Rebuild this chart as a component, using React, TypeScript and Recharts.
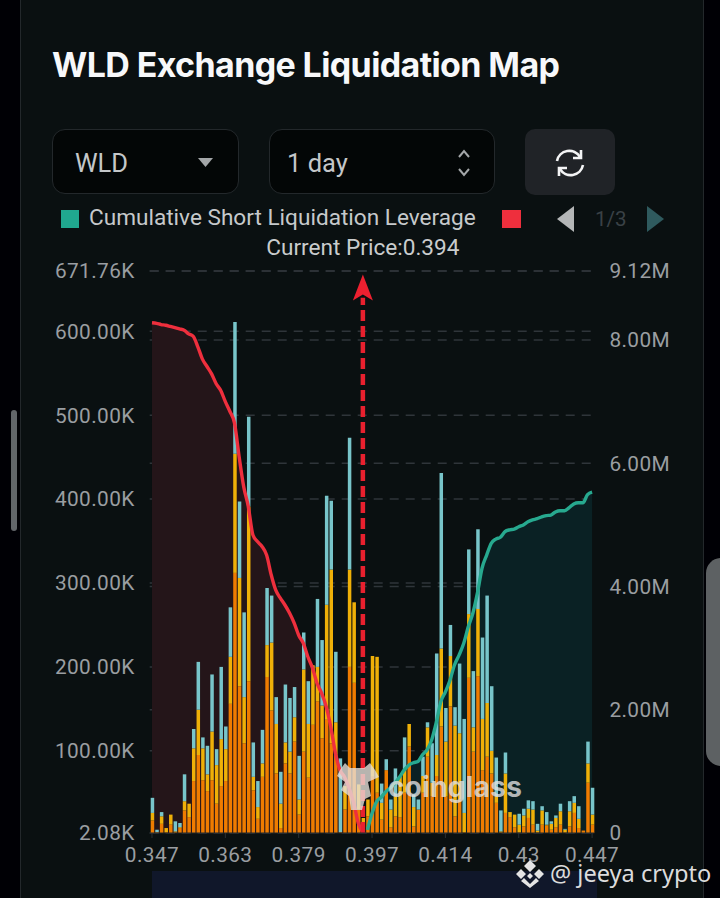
import React from 'react';
import { ComposedChart, Bar, Area, Line, XAxis, YAxis, CartesianGrid, ReferenceLine, ReferenceDot } from 'recharts';

const prices = ['0.347','0.348','0.349','0.350','0.351','0.352','0.353','0.354','0.355','0.356','0.357','0.358','0.359','0.360','0.361','0.362',
'0.363','0.364','0.365','0.366','0.367','0.368','0.369','0.370','0.371','0.372','0.373','0.374','0.375','0.376','0.377','0.378',
'0.379','0.380','0.381','0.382','0.383','0.385','0.386','0.387','0.388','0.389','0.390','0.391','0.392','0.393','0.394','0.396',
'0.397','0.398','0.399','0.400','0.401','0.402','0.403','0.404','0.405','0.406','0.407','0.408','0.409','0.410','0.411','0.412',
'0.414','0.415','0.416','0.417','0.418','0.419','0.420','0.421','0.422','0.423','0.424','0.425','0.426','0.427','0.428','0.429',
'0.43','0.431','0.432','0.433','0.434','0.435','0.436','0.437','0.438','0.439','0.440','0.441','0.443','0.444','0.445','0.446','0.447'];
const xTicks = ['0.347','0.363','0.379','0.397','0.414','0.43','0.447'];
const leftTicks = [2.08, 100, 200, 300, 400, 500, 600, 671.76];
const rightTicks = [0, 2, 4, 6, 8, 9.12];

// Top of each stacked band, in thousands
const orangeTop = [17,3,13,3,12,3,8,29,21,64,
95,65,52,65,37,58,64,156,312,177,
109,183,53,19,69,188,148,73,8,85,
73,111,24,99,68,131,159,115,137,109,
96,3,30,200,181,30,8,22,69,50,
18,77,9,22,21,50,105,10,30,50,
93,46,70,129,46,153,22,42,3,187,
99,189,77,93,73,38,3,26,21,9,
3,10,20,12,3,12,11,6,9,12,
3,10,26,8,5,62,12];
const yellowTop = [26,3,22,8,24,4,9,40,37,103,
149,103,72,123,83,114,102,212,454,306,
164,391,69,33,85,226,229,132,37,110,
99,140,42,197,132,202,200,154,274,316,
134,3,58,316,277,60,20,42,213,212,
38,77,30,46,70,77,132,33,30,70,
128,62,95,222,111,213,130,121,26,263,
128,269,138,157,100,46,4,73,27,24,
12,23,31,30,5,29,12,13,20,28,
6,28,38,19,5,85,24];
const tealTop = [44,6,27,8,24,16,14,72,37,126,
206,116,106,191,102,200,129,271,611,397,
265,498,110,64,125,294,285,164,75,179,
163,176,94,241,183,202,281,232,404,398,
218,91,58,473,277,60,20,42,213,212,
61,90,42,79,70,116,132,48,42,93,
134,109,216,431,151,250,152,204,138,340,
195,364,235,285,177,92,29,98,27,24,
25,31,41,40,13,34,27,16,23,37,
7,40,46,34,5,111,56];
// Cumulative lines, in millions
const longCum = [8.28,8.27,8.25,8.24,8.22,8.2,8.18,8.16,8.1,8.06,
7.89,7.69,7.57,7.45,7.29,7.18,7,6.84,6.65,6.11,
5.62,5.3,4.84,4.73,4.65,4.51,4.19,3.94,3.81,3.7,
3.57,3.41,3.21,3.08,2.86,2.68,2.43,2.27,2.05,1.72,
1.3,1.02,0.91,0.73,0.49,0.16,0.02];
const shortCum = [0.05,0.32,0.51,0.58,0.67,0.73,0.81,0.91,1.02,1.1,1.14,1.16,1.27,1.35,1.51,1.79,2.13,2.29,2.48,2.73,2.89,3.08,3.35,3.57,3.9,4.3,4.51,4.7,4.77,4.8,4.89,4.92,4.93,4.97,5,5.05,5.08,5.1,5.13,5.15,5.16,5.21,5.23,5.23,5.28,5.34,5.36,5.36,5.49,5.53];
const shortStart = 47;

const rows = prices.map((price, i) => ({
  price,
  orange: orangeTop[i],
  yellow: yellowTop[i] - orangeTop[i],
  teal: tealTop[i] - yellowTop[i],
  long: i < longCum.length ? longCum[i] : null,
  short: i >= shortStart ? shortCum[i - shortStart] : null,
}));

const sans = 'Roboto, sans-serif';
const RED = '#ee2f3d';
const TEAL = '#27a98f';
const tickStyle = { fill: '#9a9ea1', fontSize: 20.8, fontFamily: sans, letterSpacing: 0.4 };

const box = (left: number, width: number): React.CSSProperties => ({
  position: 'absolute', left, top: 129, width, height: 65, boxSizing: 'border-box',
  background: '#030606', border: '1.5px solid #23282b', borderRadius: 13,
});
const abs = (left: number, top: number, extra: React.CSSProperties = {}): React.CSSProperties => ({
  position: 'absolute', left, top, fontFamily: sans, whiteSpace: 'nowrap', ...extra,
});

function CurrentPrice(props: any) {
  const { cx, cy } = props;
  return (
    <g>
      <text x={cx} y={cy - 33} textAnchor="middle" fill="#c9cccd" fontSize={22.6} fontFamily={sans}>Current Price:0.394</text>
      <path d={`M${cx} ${cy - 14} L${cx + 10} ${cy + 12} L${cx} ${cy + 6} L${cx - 10} ${cy + 12} Z`} fill="#ee2030" />
    </g>
  );
}

export default function App() {
  return (
    <div style={{ position: 'absolute', left: 0, top: 0, width: 720, height: 898, background: '#000005', overflow: 'hidden' }}>
      <div style={{ position: 'absolute', left: 20, top: 0, width: 684, height: 898, background: '#0a1011', borderLeft: '1px solid #23282b', borderRight: '1px solid #23282b', boxSizing: 'border-box' }} />
      <div style={{ position: 'absolute', left: 11, top: 410, width: 6, height: 121, borderRadius: 3, background: '#62666a' }} />
      <div style={{ position: 'absolute', left: 706, top: 558, width: 30, height: 208, borderRadius: 16, background: '#5d6163' }} />
      <div style={{ position: 'absolute', left: 152, top: 871, width: 445, height: 27, background: '#10172a' }} />

      <div style={abs(52, 43, { fontFamily: 'Inter, sans-serif', fontWeight: 700, fontSize: 34, lineHeight: '44px', color: '#f7f8fa', letterSpacing: -0.62 })}>WLD Exchange Liquidation Map</div>

      <div style={box(52, 187)} />
      <div style={abs(75, 147, { fontSize: 25.5, lineHeight: '32px', color: '#c4c7c9' })}>WLD</div>
      <svg style={{ position: 'absolute', left: 198, top: 158 }} width="16" height="10"><path d="M0 0H15L7.5 9Z" fill="#a4a7a9" /></svg>
      <div style={box(269, 226)} />
      <div style={abs(287, 147, { fontSize: 25.5, lineHeight: '32px', color: '#c4c7c9' })}>1 day</div>
      <svg style={{ position: 'absolute', left: 456, top: 148 }} width="16" height="30" fill="none" stroke="#a4a7a9" strokeWidth="2"><path d="M3 9L8 3L13 9M3 21L8 27L13 21" /></svg>
      <div style={{ position: 'absolute', left: 525, top: 129, width: 90, height: 66, background: '#202327', borderRadius: 10 }} />
      <svg style={{ position: 'absolute', left: 553, top: 147 }} width="34" height="32" fill="none" stroke="#f3f4f5" strokeWidth="2.6">
        <path d="M4 14A12.5 12.5 0 0 1 27 10M30 18A12.5 12.5 0 0 1 7 22" />
        <path d="M28 3V11H20M6 29V21H14" />
      </svg>

      <div style={{ position: 'absolute', left: 61, top: 210, width: 18, height: 18, background: '#20a88f' }} />
      <div style={abs(89, 205, { fontSize: 22.6, lineHeight: '26px', color: '#c6c9cb' })}>Cumulative Short Liquidation Leverage</div>
      <div style={{ position: 'absolute', left: 502, top: 210, width: 19, height: 18, background: RED }} />
      <svg style={{ position: 'absolute', left: 554, top: 204 }} width="114" height="30">
        <path d="M20 2V28L3 15Z" fill="#b4b6b7" />
        <path d="M93 2V28L110 15Z" fill="#2f5a5e" />
      </svg>
      <div style={abs(595, 206, { fontSize: 20.5, lineHeight: '26px', color: '#3a4146' })}>1/3</div>

      <div style={{ position: 'absolute', left: 0, top: 0 }}>
        <ComposedChart width={720} height={898} data={rows} margin={{ top: 271, right: 25.6, bottom: 30, left: 49.7 }} barCategoryGap={0}>
          <Area yAxisId="right" dataKey="long" type="linear" stroke="none" fill="#241519" fillOpacity={1} isAnimationActive={false} dot={false} activeDot={false} />
          <Area yAxisId="right" dataKey="short" type="linear" stroke="none" fill="#0a2124" fillOpacity={1} isAnimationActive={false} dot={false} activeDot={false} />
          <CartesianGrid yAxisId="left" vertical={false} stroke="#2f353a" strokeWidth={1.5} strokeDasharray="9 7" />
          <CartesianGrid yAxisId="right" vertical={false} stroke="#2f353a" strokeWidth={1.5} strokeDasharray="9 7" />
          <XAxis dataKey="price" ticks={xTicks} interval={0} height={35} tick={tickStyle} tickLine={{ stroke: '#2b3136' }} axisLine={{ stroke: '#20262a' }} tickSize={5} tickMargin={9} />
          <YAxis yAxisId="left" orientation="left" width={100} domain={[2.08, 671.76]} allowDataOverflow ticks={leftTicks} interval={0} tickFormatter={(v: number) => `${v.toFixed(2)}K`} tick={tickStyle} tickLine={false} axisLine={false} tickSize={0} tickMargin={15} />
          <YAxis yAxisId="right" orientation="right" width={100} domain={[0, 9.12]} ticks={rightTicks} interval={0} tickFormatter={(v: number) => (v === 0 ? '0' : `${v.toFixed(2)}M`)} tick={tickStyle} tickLine={false} axisLine={false} tickSize={0} tickMargin={15} />
          <Bar yAxisId="left" dataKey="orange" stackId="liq" fill="#ef7c00" barSize={3.5} isAnimationActive={false} />
          <Bar yAxisId="left" dataKey="yellow" stackId="liq" fill="#efb008" barSize={3.5} isAnimationActive={false} />
          <Bar yAxisId="left" dataKey="teal" stackId="liq" fill="#78c5ca" barSize={3.5} isAnimationActive={false} />
          <Line yAxisId="right" dataKey="long" type="monotone" stroke={RED} strokeWidth={3.4} dot={false} activeDot={false} isAnimationActive={false} />
          <Line yAxisId="right" dataKey="short" type="monotone" stroke={TEAL} strokeWidth={3.4} dot={false} activeDot={false} isAnimationActive={false} />
          <ReferenceLine yAxisId="left" segment={[{ x: '0.394', y: 2.08 }, { x: '0.394', y: 640 }]} stroke="#e8202e" strokeWidth={4.5} strokeDasharray="11 5" />
          <ReferenceDot yAxisId="left" x="0.394" y={651} r={1} shape={CurrentPrice} />
        </ComposedChart>
      </div>

      <svg style={{ position: 'absolute', left: 335, top: 760, opacity: 0.78 }} width="45" height="52" fill="#e8e2dc">
        <path d="M5 10L10 3L15 8H29L35 3L40 10L44 17L33 22L36 36L30 39L27 50H16L14 36L6 30L10 22L2 16Z" />
      </svg>
      <div style={abs(388, 767, { fontFamily: 'Inter, sans-serif', fontWeight: 700, fontSize: 28, lineHeight: '40px', color: 'rgba(226,226,226,0.78)', letterSpacing: 0.3 })}>coinglass</div>

      <svg style={{ position: 'absolute', left: 516, top: 860 }} width="28" height="28" fill="#e4e4e4">
        <path d="M14 0L20 6L14 12L8 6ZM5 9L10 14L5 19L0 14ZM23 9L28 14L23 19L18 14ZM14 13L17 16L14 19L11 16ZM8 18L14 24L20 18L23 21L14 28L5 21Z" />
      </svg>
      <div style={abs(550, 858, { fontFamily: '"Noto Sans", sans-serif', fontSize: 23.6, lineHeight: '30px', color: '#dcdcdc' })}>@ jeeya crypto</div>
    </div>
  );
}
